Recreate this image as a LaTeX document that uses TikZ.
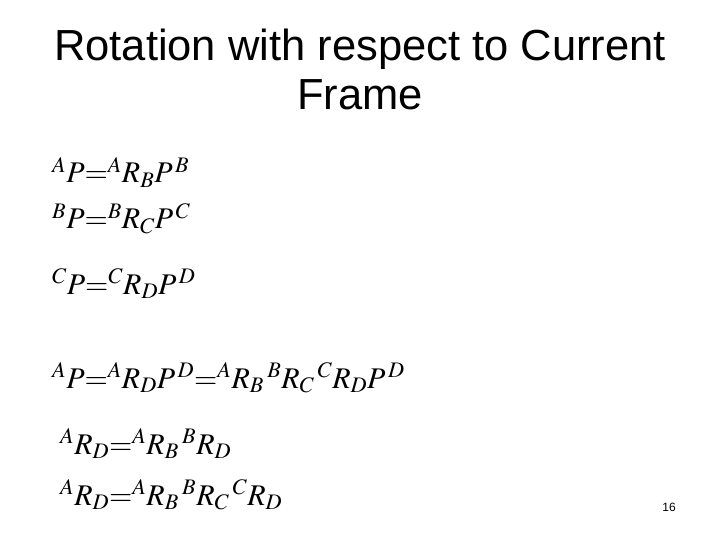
\documentclass[tikz,border=0pt]{standalone}
\usepackage{mathptmx}
\usepackage{fontspec}
\setmainfont{Liberation Sans}
\begin{document}
\begin{tikzpicture}[x=1pt,y=-1pt,eq/.style={anchor=base west,inner sep=0pt,font=\fontsize{30}{34}\selectfont}]
\useasboundingbox (0,0) rectangle (720,540);
\node[font=\fontsize{43.5}{50}\selectfont,anchor=base] (t1) at (360,61) {Rotation with respect to Current};
\node[font=\fontsize{43.5}{50}\selectfont,anchor=base] (t2) at (360,110) {Frame};
\node[eq] (e1) at (52,183) {${}^{A}P{=}{}^{A}R_{B}P^{\,B}$};
\node[eq] (e2) at (52,229) {${}^{B}P{=}{}^{B}R_{C}P^{\,C}$};
\node[eq] (e3) at (52,294) {${}^{C}P{=}{}^{C}R_{D}P^{\,D}$};
\node[eq] (e4) at (52,388) {${}^{A}P{=}{}^{A}R_{D}P^{\,D}{=}{}^{A}R_{B}\,{}^{B}R_{C}\,{}^{C}R_{D}P^{\,D}$};
\node[eq] (e5) at (60,454) {${}^{A}R_{D}{=}{}^{A}R_{B}\,{}^{B}R_{D}$};
\node[eq] (e6) at (60,505) {${}^{A}R_{D}{=}{}^{A}R_{B}\,{}^{B}R_{C}\,{}^{C}R_{D}$};
\node[anchor=base,font=\fontsize{12}{14}\selectfont] (n) at (669,511) {16};
\end{tikzpicture}
\end{document}
